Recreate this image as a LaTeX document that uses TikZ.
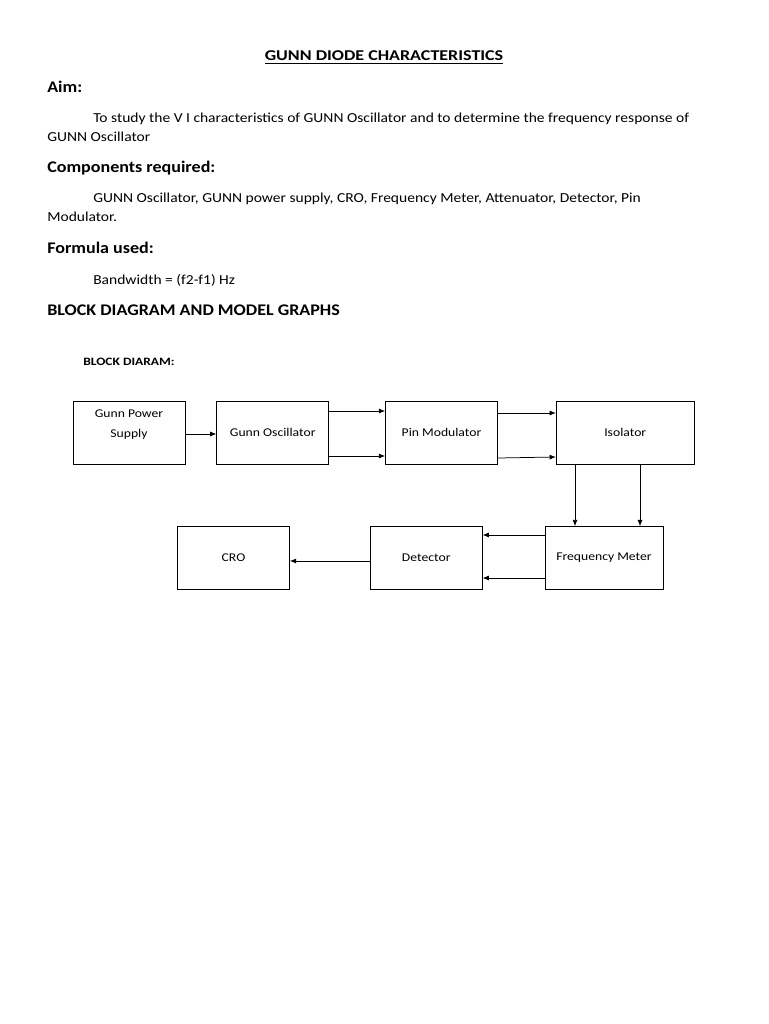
\documentclass[tikz,border=0pt]{standalone}
\usepackage{fontspec}
\setmainfont{Carlito}
\usetikzlibrary{arrows.meta,positioning}

\tikzset{
  blk/.style={draw,line width=0.6pt,minimum width=89.6pt,minimum height=50.4pt,
              inner sep=0pt,font=\fontsize{9.5}{14}\selectfont,align=center},
  wide/.style={xscale=#1,transform shape},
  txt/.style={anchor=base west,inner sep=0pt,font=\fontsize{11}{13}\selectfont,wide=1.13},
  head/.style={anchor=base west,inner sep=0pt,font=\fontsize{13}{15}\selectfont\bfseries,wide=1.11},
  arr/.style={-{Latex[length=5pt,width=4pt]},line width=0.6pt}
}

\begin{document}
\begin{tikzpicture}[x=0.8pt,y=-0.8pt]
    \useasboundingbox[fill=white] (0,0) rectangle (768,1024);

    % text of the sheet
    \node[anchor=base,inner sep=0pt,font=\fontsize{12}{14}\selectfont\bfseries,wide=1.2]
          (title) at (384,61) {\underline{GUNN DIODE CHARACTERISTICS}};
    \node[head] (aim)  at (47,93)    {Aim:};
    \node[txt]  (aim1) at (93,122.5) {To study the V I characteristics of GUNN Oscillator and to determine the frequency response of};
    \node[txt]  (aim2) at (47,141.5) {GUNN Oscillator};
    \node[head] (comp) at (47,173)   {Components required:};
    \node[txt]  (cmp1) at (93,202.5) {GUNN Oscillator, GUNN power supply, CRO, Frequency Meter, Attenuator, Detector, Pin};
    \node[txt]  (cmp2) at (47,221.5) {Modulator.};
    \node[head] (form) at (47,253)   {Formula used:};
    \node[txt]  (bw)   at (93,284.5) {Bandwidth = (f2-f1) Hz};
    \node[head] (bdmg) at (47,315)   {BLOCK DIAGRAM AND MODEL GRAPHS};
    \node[anchor=base west,inner sep=0pt,font=\fontsize{9}{10}\selectfont\bfseries,wide=1.2]
          (bdt) at (83,365) {BLOCK DIARAM:};

    % blocks
    \node[blk,label={[anchor=north,yshift=-4pt,align=center,wide=1.15,font=\fontsize{9.5}{15.5}\selectfont]north:Gunn Power\\Supply}]
          (gps) at (129,432.5) {};
    \node[blk] (osc) [right=24.8pt of gps]                      {\scalebox{1.15}[1]{Gunn Oscillator}};
    \node[blk] (pin) [right=44.8pt of osc]                      {\scalebox{1.15}[1]{Pin Modulator}};
    \node[blk,minimum width=110.4pt] (iso) [right=46.4pt of pin] {\scalebox{1.15}[1]{Isolator}};
    \node[blk,minimum width=94.4pt]  (fm)  at (604,558)         {\scalebox{1.15}[1]{Frequency Meter}};
    \node[blk] (det) [left=49.6pt of fm]                        {\scalebox{1.15}[1]{Detector}};
    \node[blk] (cro) [left=64pt of det]                         {\scalebox{1.15}[1]{CRO}};

    % connections
    \draw[arr] (gps.east |- 0,434) -- (osc.west |- 0,434);
    \draw[arr] (osc.east |- 0,411) -- (pin.west |- 0,411);
    \draw[arr] (osc.east |- 0,456) -- (pin.west |- 0,456);
    \draw[arr] (pin.east |- 0,413) -- (iso.west |- 0,413);
    \draw[arr] (pin.east |- 0,458) -- (iso.west |- 0,457);
    \draw[arr] (iso.south -| 575,0) -- (fm.north -| 575,0);
    \draw[arr,line width=0.4pt] (iso.south -| 640,0) -- (fm.north -| 640,0);
    \draw[arr] (fm.west |- 0,535) -- (det.east |- 0,535);
    \draw[arr] (fm.west |- 0,578) -- (det.east |- 0,578);
    \draw[arr] (det.west |- 0,561) -- (cro.east |- 0,561);
\end{tikzpicture}
\end{document}
